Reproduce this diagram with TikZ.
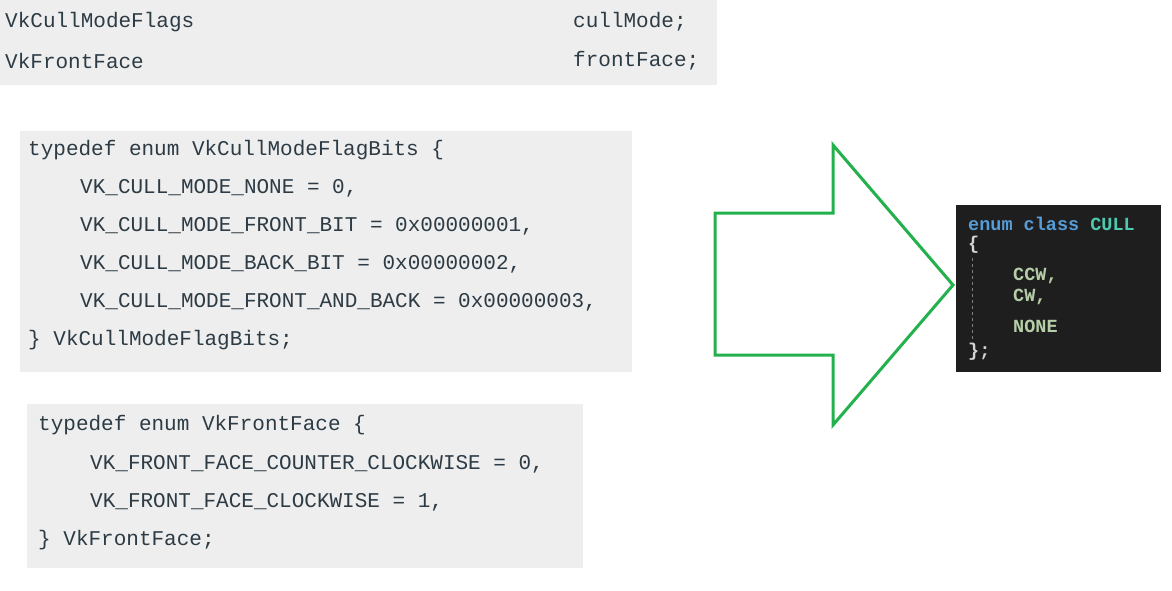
\documentclass[tikz,border=0pt]{standalone}
\usepackage{fontspec}
\setmonofont{Liberation Mono}
\definecolor{codebg}{HTML}{EEEEEE}
\definecolor{codetxt}{HTML}{2D3B45}
\definecolor{arrowgreen}{HTML}{22B14C}
\definecolor{darkbg}{HTML}{1E1E1E}
\definecolor{kw}{HTML}{569CD6}
\definecolor{typ}{HTML}{4EC9B0}
\definecolor{enm}{HTML}{B5CEA8}
\definecolor{brc}{HTML}{D4D4D4}
\begin{document}
\begin{tikzpicture}[x=1pt,y=-1pt,
  code/.style={anchor=west,inner sep=0pt,text=codetxt,font=\ttfamily\fontsize{21}{21}\selectfont},
  dcode/.style={anchor=west,inner sep=0pt,font=\ttfamily\bfseries\fontsize{18.5}{18.5}\selectfont}]
\useasboundingbox (0,0) rectangle (1172,590);
\fill[codebg] (0,0) rectangle (717,85);
\fill[codebg] (20,131) rectangle (632,372);
\fill[codebg] (27,404) rectangle (583,568);
\node[code] (a1) at (5,22) {VkCullModeFlags};
\node[code] (a2) at (573,22) {cullMode;};
\node[code] (a3) at (5,61) {VkFrontFace};
\node[code] (a4) at (573,61) {frontFace;};
\node[code] (b1) at (28,150) {typedef enum VkCullModeFlagBits \{};
\node[code] (b2) at (80,188) {VK\_CULL\_MODE\_NONE = 0,};
\node[code] (b3) at (80,226) {VK\_CULL\_MODE\_FRONT\_BIT = 0x00000001,};
\node[code] (b4) at (80,264) {VK\_CULL\_MODE\_BACK\_BIT = 0x00000002,};
\node[code] (b5) at (80,302) {VK\_CULL\_MODE\_FRONT\_AND\_BACK = 0x00000003,};
\node[code] (b6) at (28,340) {\} VkCullModeFlagBits;};
\node[code] (c1) at (38,425) {typedef enum VkFrontFace \{};
\node[code] (c2) at (90,464) {VK\_FRONT\_FACE\_COUNTER\_CLOCKWISE = 0,};
\node[code] (c3) at (90,502) {VK\_FRONT\_FACE\_CLOCKWISE = 1,};
\node[code] (c4) at (38,540) {\} VkFrontFace;};
\draw[arrowgreen,line width=3pt,line join=miter] (715,213) -- (833,213) -- (833,145) -- (953,285) -- (833,425) -- (833,355) -- (715,355) -- cycle;
\fill[darkbg] (956,205) rectangle (1161,372);
\draw[gray,dashed,line width=0.6pt] (972,258) -- (972,342);
\node[dcode] (d1) at (968,224) {\textcolor{kw}{enum class} \textcolor{typ}{CULL}};
\node[dcode,text=brc] (d2) at (968,245) {\{};
\node[dcode,text=enm] (d3) at (1013,276) {CCW,};
\node[dcode,text=enm] (d4) at (1013,297) {CW,};
\node[dcode,text=enm] (d5) at (1013,326) {NONE};
\node[dcode,text=brc] (d6) at (968,352) {\};};
\end{tikzpicture}
\end{document}
